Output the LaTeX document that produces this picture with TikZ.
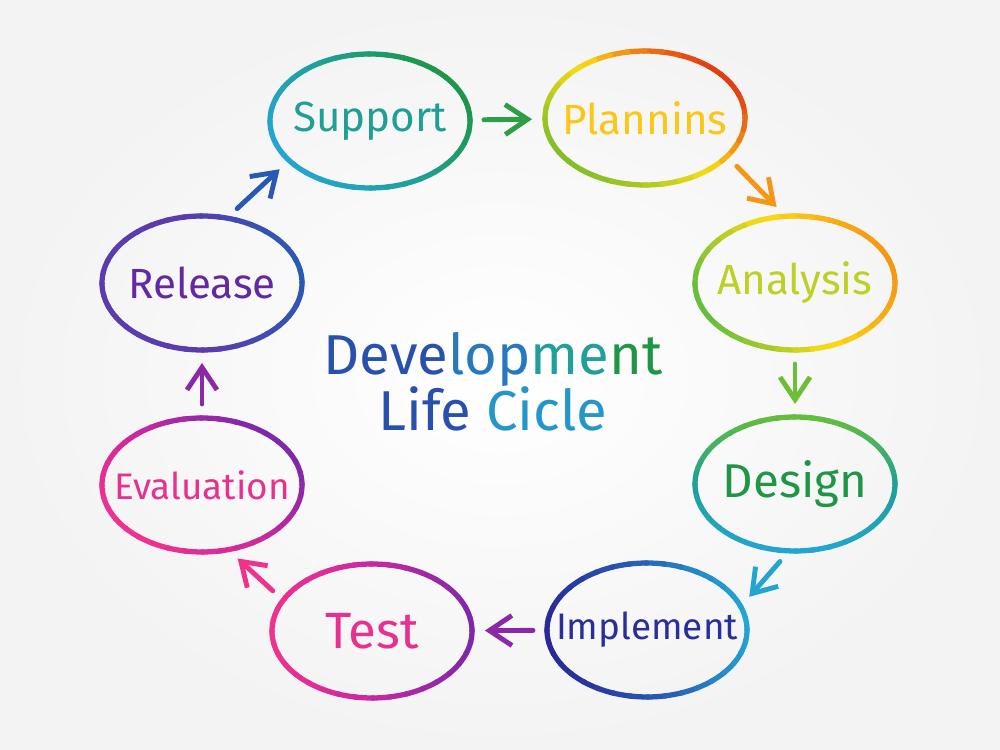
\documentclass[tikz,border=0pt]{standalone}
\usepackage{fontspec}
\setmainfont{Fira Sans}
\usepackage{xcolor}
\usepackage{tikz}
\usetikzlibrary{shapes.geometric,arrows.meta,positioning,calc}

\definecolor{bggray}{RGB}{243,243,243}
\definecolor{mkgreen}{RGB}{30,150,70}
\definecolor{mkteal}{RGB}{30,160,150}
\definecolor{mkcyan}{RGB}{35,165,210}
\definecolor{mkred}{RGB}{225,60,20}
\definecolor{mkyellow}{RGB}{250,220,20}
\definecolor{mklime}{RGB}{130,190,40}
\definecolor{mkorange}{RGB}{245,150,20}
\definecolor{mkleaf}{RGB}{100,190,60}
\definecolor{mkblue}{RGB}{40,90,180}
\definecolor{mknavy}{RGB}{40,40,150}
\definecolor{mkpurple}{RGB}{125,40,170}
\definecolor{mkmagenta}{RGB}{200,40,160}
\definecolor{mkpink}{RGB}{240,50,140}

% gradient marker ring round a stage node: node, phase, colour at phase, middle, opposite
\newcommand{\ringgrad}[5]{%
  \foreach \a in {0,10,...,350}{
    \pgfmathsetmacro{\ringt}{cos(\a+5-#2)}
    \pgfmathtruncatemacro{\ringp}{abs(\ringt)*100}
    \ifdim\ringt pt>0pt \def\ringc{#3!\ringp!#4}\else\def\ringc{#5!\ringp!#4}\fi
    \draw[ringline, color=\ringc] (#1.center) ++(\a:100 and 67)
      arc[start angle=\a, end angle=\a+11, x radius=100, y radius=67];
  }}
% label that does not widen its ellipse
\newcommand{\stagetext}[1]{\makebox[0pt]{#1}}

\begin{document}
\begin{tikzpicture}[x=0.02cm, y=0.02cm,
    stage/.style={ellipse, minimum width=4cm, minimum height=2.68cm, inner sep=0pt,
                  outer sep=0pt, font=\fontsize{24}{28}\selectfont},
    ringline/.style={line width=3pt, line cap=round},
    flow/.style={line width=2.8pt, line cap=round, shorten <=0.28cm, shorten >=0.26cm,
                 -{Straight Barb[length=4.5mm, width=6mm]}}]
  \useasboundingbox (0,0) rectangle (1000,750);
  \shade[inner color=white, outer color=bggray] (0,0) rectangle (1000,750);

  % stages
  \node[stage, text=mkteal] (support) at (370,629) {\stagetext{Support}};
  \node[stage, text=mkyellow!70!mkorange] (planning) at (645,632) {\stagetext{Plannins}};
  \node[stage, text=mkyellow!60!mkleaf] (analysis) at (795,467) {\stagetext{Analysis}};
  \node[stage, text=mkgreen, font=\fontsize{27}{30}\selectfont] (design) at (795,266) {\stagetext{Design}};
  \node[stage, text=mknavy!85!mkblue, font=\fontsize{21}{24}\selectfont] (implement) at (647,120) {\stagetext{Implement}};
  \node[stage, text=mkpink!80!mkmagenta, font=\fontsize{29}{32}\selectfont] (test) at (372,119) {\stagetext{Test}};
  \node[stage, text=mkpink!85!mkmagenta, font=\fontsize{21}{24}\selectfont] (evaluation) at (202,265) {\stagetext{Evaluation}};
  \node[stage, text=mkpurple!70!mknavy] (release) at (202,467) {\stagetext{Release}};

  \ringgrad{support}{30}{mkgreen}{mkteal}{mkcyan}
  \ringgrad{planning}{40}{mkred}{mkyellow}{mklime}
  \ringgrad{analysis}{20}{mkorange}{mkyellow}{mkleaf}
  \ringgrad{design}{90}{mkleaf}{mkteal}{mkcyan}
  \ringgrad{implement}{10}{mkcyan}{mkblue}{mknavy}
  \ringgrad{test}{0}{mkpurple}{mkmagenta}{mkpink}
  \ringgrad{evaluation}{40}{mkpurple}{mkmagenta}{mkpink}
  \ringgrad{release}{10}{mkblue}{mkpurple!60!mkblue}{mkpurple}

  % arrows round the cycle
  \draw[flow, mkgreen!80!mkleaf] (support) -- (planning);
  \draw[flow, mkorange] (planning.-25) -- (analysis.98);
  \draw[flow, mkleaf!70!mklime] (analysis.south) -- (design.north);
  \draw[flow, mkcyan] (design.265) -- (implement.14);
  \draw[flow, mkpurple!80!mkmagenta] (implement) -- (test);
  \draw[flow, mkpink] (test.161) -- (evaluation.292);
  \draw[flow, mkpurple!80!mkmagenta] (evaluation.north) -- (release.south);
  \draw[flow, mkblue] (release.69) -- (support.206);

  % title
  \node[align=center, font=\fontsize{32}{32}\selectfont] (title) at (493,368)
    {{\color{mkblue!80!mknavy}Deve}{\color{mkblue!60!mkcyan}lop}{\color{mkcyan!60!mkgreen}me}{\color{mkgreen}nt}\\
     {\color{mkblue!80!mknavy}Life} {\color{mkcyan!80!mkblue}Cicle}};
\end{tikzpicture}
\end{document}
